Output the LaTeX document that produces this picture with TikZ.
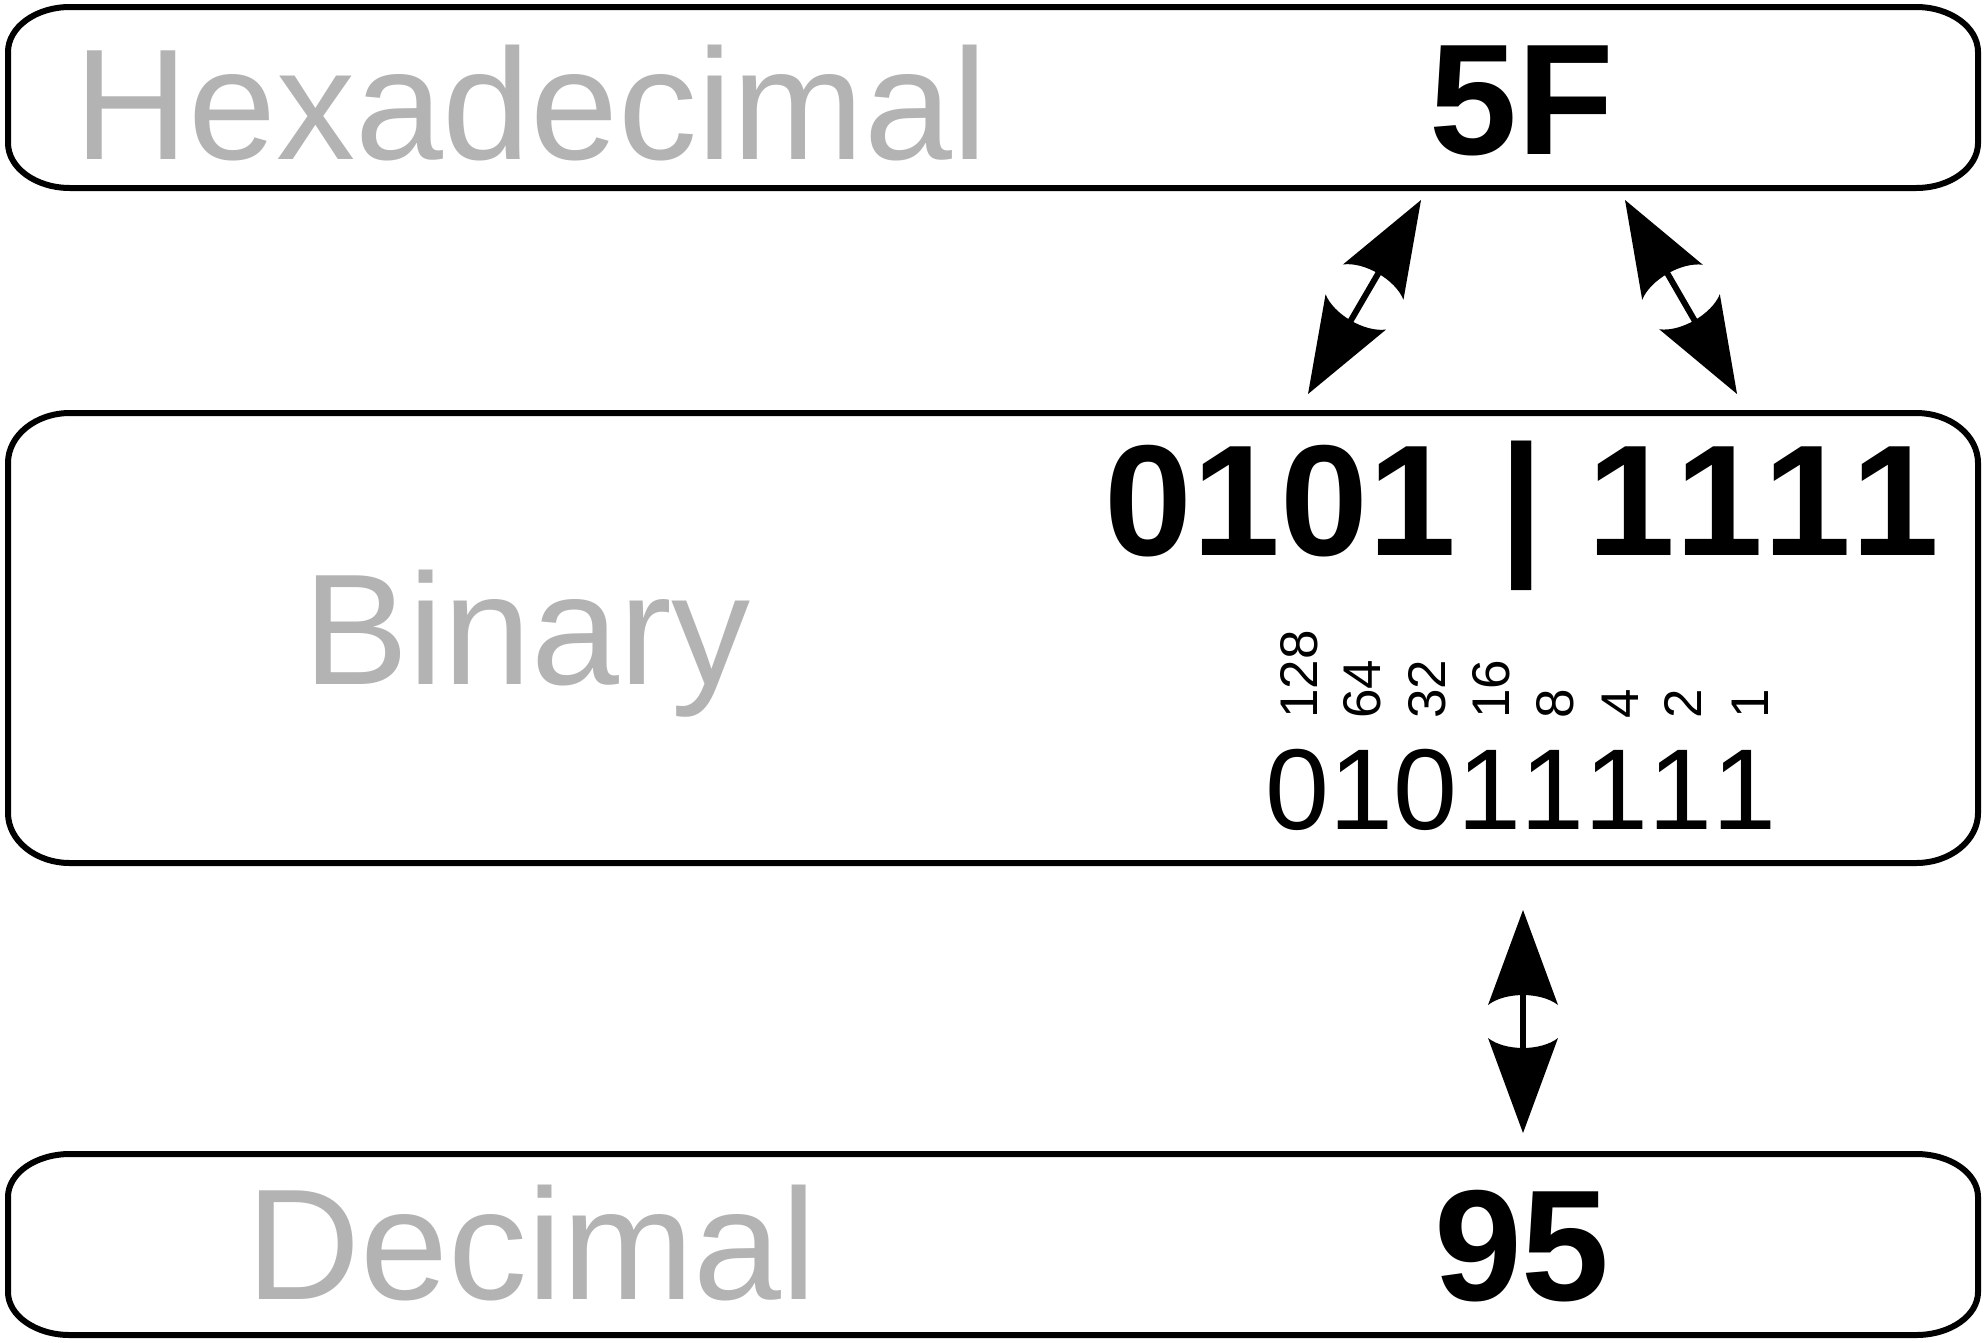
\documentclass[tikz,border=0pt]{standalone}
\usepackage{fontspec}
\setmainfont[Kerning=Off]{Liberation Sans}
\definecolor{lbl}{RGB}{179,179,179}
\pgfdeclarearrow{
  name = BigHead,
  setup code = {
    \pgfarrowssettipend{0pt}
    \pgfarrowssetlineend{-80pt}
    \pgfarrowssetvisualbackend{-85pt}
    \pgfarrowssetbackend{-95pt}
    \pgfarrowshullpoint{0pt}{0pt}
    \pgfarrowshullpoint{-95pt}{35pt}
    \pgfarrowshullpoint{-95pt}{-35pt}
  },
  drawing code = {
    \pgfpathmoveto{\pgfpointorigin}
    \pgfpathlineto{\pgfpoint{-95pt}{35pt}}
    \pgfpathcurveto{\pgfpoint{-81.7pt}{18pt}}{\pgfpoint{-81.7pt}{-18pt}}{\pgfpoint{-95pt}{-35pt}}
    \pgfpathclose
    \pgfusepathqfill
  }
}
\newcommand\ovalbox[5]{% x1 y1 x2 y2 ry
  \draw[boxline] ({#1+62},#2) -- ({#3-62},#2)
    arc[start angle=270, end angle=360, x radius=62, y radius=#5]
    -- (#3,{#4-#5})
    arc[start angle=0, end angle=90, x radius=62, y radius=#5]
    -- ({#1+62},#4)
    arc[start angle=90, end angle=180, x radius=62, y radius=#5]
    -- (#1,{#2+#5})
    arc[start angle=180, end angle=270, x radius=62, y radius=#5]
    -- cycle;}
\begin{document}
\begin{tikzpicture}[x=1pt,y=-1pt,
  boxline/.style={line width=6pt, line join=round},
  label/.style={inner sep=0pt, text=lbl, font=\fontsize{158}{165}\selectfont},
  value/.style={inner sep=0pt, text=black, font=\fontsize{158}{165}\selectfont\bfseries},
  bits/.style={inner sep=0pt, text=black, font=\fontsize{115}{120}\selectfont},
  weight/.style={inner sep=0pt, text=black, rotate=90, anchor=base west, font=\fontsize{53}{56}\selectfont},
  link/.style={line width=6pt, BigHead-BigHead}]
\useasboundingbox (0,0) rectangle (1985,1342);
\fill[white] (0,0) rectangle (1985,1342);

% boxes
\ovalbox{8}{7}{1978}{188}{45}
\ovalbox{8}{413}{1978}{863}{50}
\ovalbox{8}{1154}{1978}{1335}{43}

% texts
\node[label, anchor=base west] (hexlbl) at (74,159) {Hexadecimal};
\node[value, anchor=base] (hexval) at (1522,154) {5F};
\node[label, anchor=base west] (binlbl) at (303,684) {Binary};
\node[value, anchor=base] (binval) at (1522,555) {0101 | 1111};
\node[bits, anchor=base] (binbits) at (1521,829) {01011111};
\node[label, anchor=base west] (declbl) at (246,1299) {Decimal};
\node[value, anchor=base] (decval) at (1522,1300) {95};

% bit weights
\node[weight] (w128) at (1317,719) {128};
\node[weight] (w64) at (1380,719) {64};
\node[weight] (w32) at (1445,719) {32};
\node[weight] (w16) at (1509,719) {16};
\node[weight] (w8) at (1573,719) {8};
\node[weight] (w4) at (1638,719) {4};
\node[weight] (w2) at (1701,719) {2};
\node[weight] (w1) at (1768,719) {1};

% connector ends
\coordinate (a1t) at (1421,200);
\coordinate (a1b) at (1308,394);
\coordinate (a2t) at (1625,200);
\coordinate (a2b) at (1737,394);
\coordinate (a3t) at (1523,910);
\coordinate (a3b) at (1523,1133);

\draw[link] (a1b) -- (a1t);
\draw[link] (a2b) -- (a2t);
\draw[link] (a3b) -- (a3t);
\end{tikzpicture}
\end{document}
